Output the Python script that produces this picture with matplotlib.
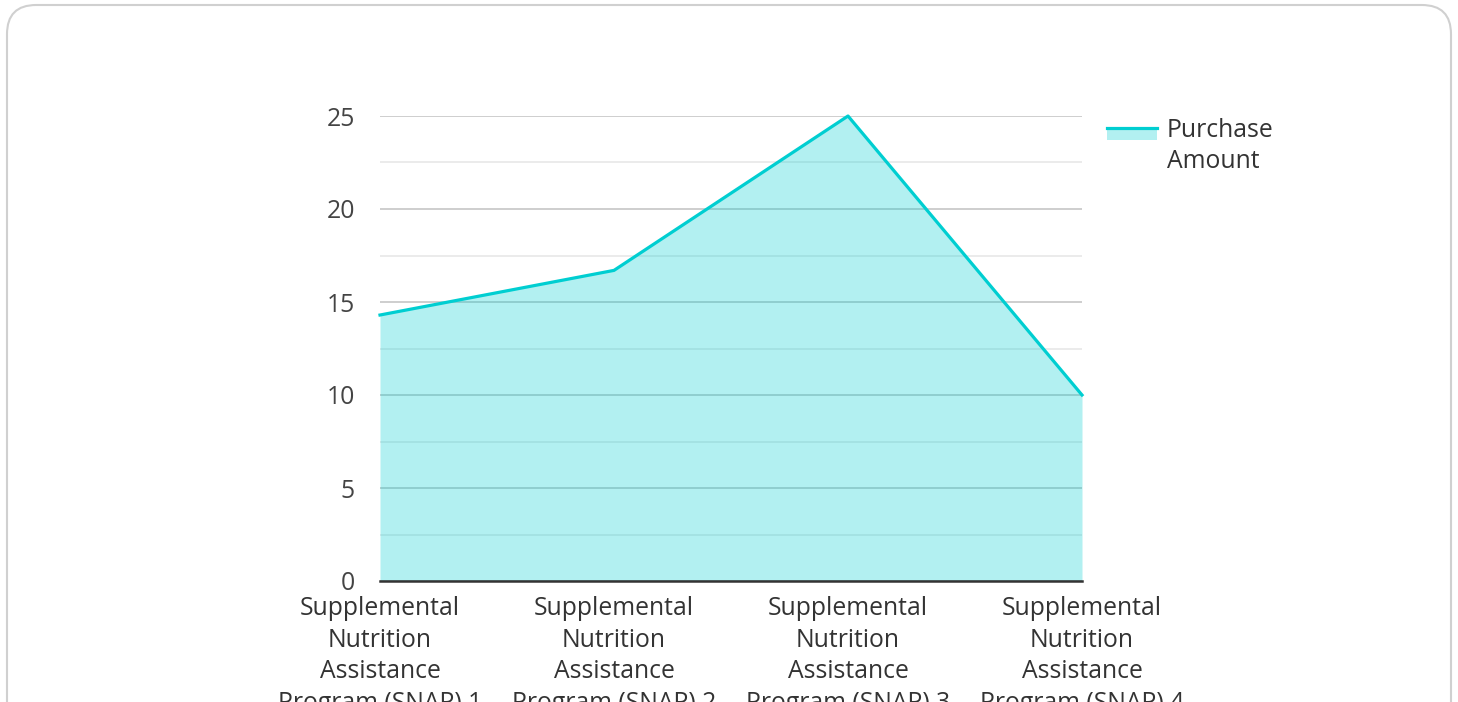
import matplotlib.pyplot as plt
from matplotlib.patches import FancyBboxPatch, Rectangle
from matplotlib.lines import Line2D

plt.rcParams['font.family'] = ['Open Sans', 'DejaVu Sans']

categories = ['Supplemental\nNutrition\nAssistance\nProgram (SNAP) 1',
              'Supplemental\nNutrition\nAssistance\nProgram (SNAP) 2',
              'Supplemental\nNutrition\nAssistance\nProgram (SNAP) 3',
              'Supplemental\nNutrition\nAssistance\nProgram (SNAP) 4']
purchase_amount = [14.3, 16.7, 25, 10]
y_ticks = [0, 5, 10, 15, 20, 25]
minor_ticks = [2.5, 7.5, 12.5, 17.5, 22.5]

line_color = '#00CED1'
W, H = 1458, 702
fs = 17.8

fig = plt.figure(figsize=(W / 100, H / 100), dpi=100)

# card background
card = FancyBboxPatch((7 / W, -0.05), 1444 / W, (H - 5) / H + 0.05,
                      boxstyle='round,pad=0,rounding_size=0.02',
                      transform=fig.transFigure, facecolor='white',
                      edgecolor='#d0d0d0', linewidth=1.5, mutation_aspect=W / H,
                      zorder=-10)
fig.add_artist(card)

ax = fig.add_axes([380 / W, 1 - 581 / H, 702 / W, 465 / H])
ax.set_facecolor('none')
x = list(range(len(categories)))
ax.fill_between(x, purchase_amount, 0, color=line_color, alpha=0.3, linewidth=0, zorder=2)
ax.plot(x, purchase_amount, color=line_color, linewidth=2.3, zorder=3, clip_on=False)

ax.set_xlim(0, len(categories) - 1)
ax.set_ylim(0, 25)
ax.set_yticks(y_ticks)
ax.set_yticks(minor_ticks, minor=True)
ax.grid(axis='y', which='major', color='#c6c6c6', linewidth=1.2, zorder=1)
ax.grid(axis='y', which='minor', color='#e8e8e8', linewidth=1.2, zorder=1)
ax.set_axisbelow(True)
ax.set_xticks(x)
ax.set_xticklabels(categories, fontsize=fs, color='#333333', linespacing=1.34)
ax.tick_params(axis='y', which='both', length=0, pad=18, labelsize=fs, labelcolor='#444444')
ax.tick_params(axis='x', length=0, pad=11)
for s in ['top', 'right', 'left']:
    ax.spines[s].set_visible(False)
ax.spines['bottom'].set_color('#333333')
ax.spines['bottom'].set_linewidth(1.8)
ax.spines['bottom'].set_zorder(4)

# legend
fig.add_artist(Rectangle((1107 / W, 1 - 140 / H), 50 / W, 13 / H,
                         transform=fig.transFigure, facecolor=line_color,
                         alpha=0.3, linewidth=0))
fig.add_artist(Line2D([1107 / W, 1157 / W], [1 - 128 / H, 1 - 128 / H],
                      transform=fig.transFigure, color=line_color, linewidth=2.3))
fig.text(1167 / W, 1 - 118 / H, 'Purchase\nAmount', fontsize=fs, color='#333333',
         va='top', ha='left', linespacing=1.32, transform=fig.transFigure)

fig.savefig('out.png', dpi=100)
